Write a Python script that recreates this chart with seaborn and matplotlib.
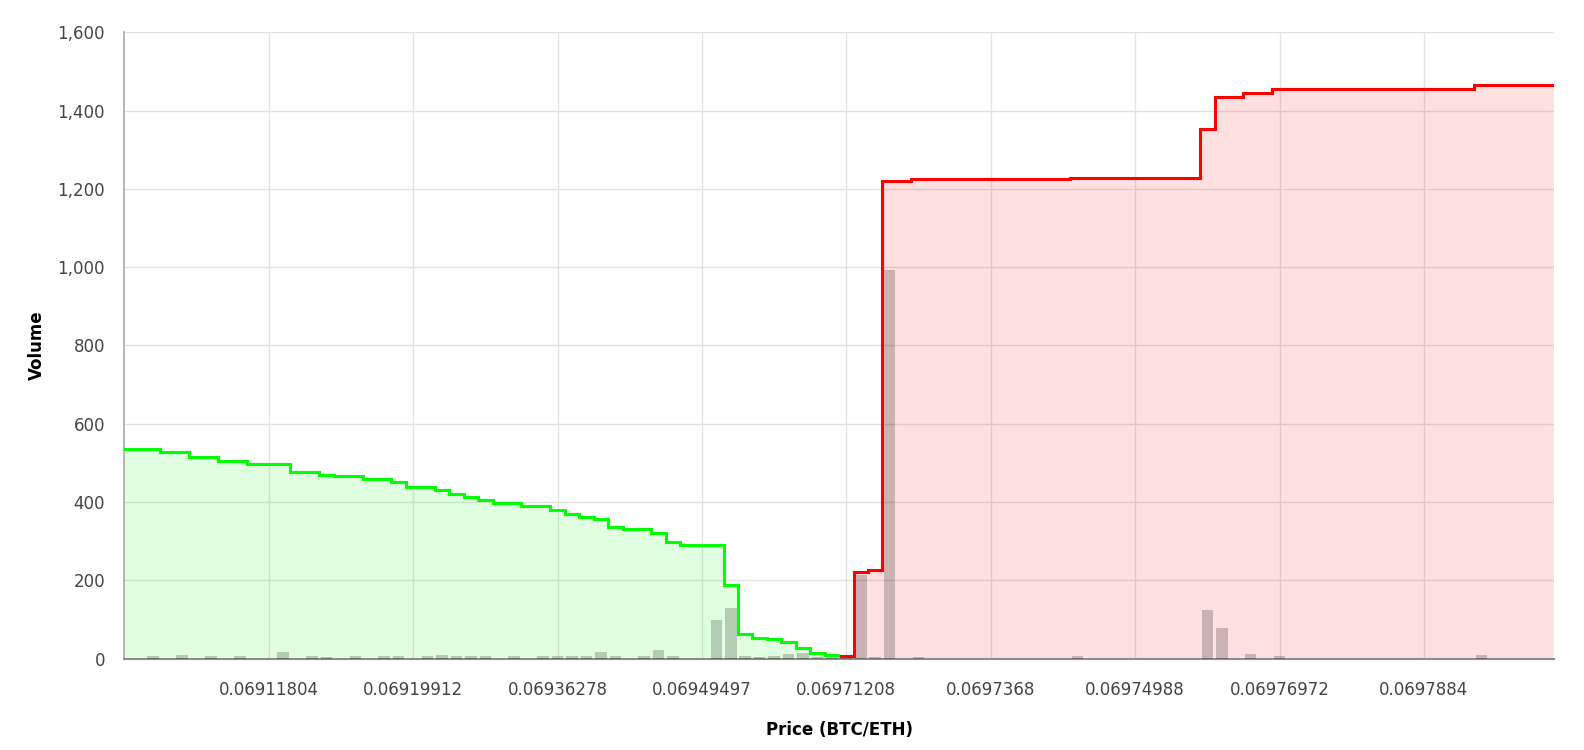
import matplotlib
matplotlib.use("Agg")
import matplotlib.pyplot as plt
from matplotlib.ticker import FuncFormatter
import numpy as np
import pandas as pd
import seaborn as sns

# cumulative depth per price slot (bids: slots 0-49, asks: slots 50-99)
bid_total = [535, 535, 535, 527, 527, 516, 516, 504, 504, 497,
             497, 497, 477, 477, 470, 466, 466, 458, 458, 451,
             439, 439, 431, 420, 412, 405, 397, 397, 390, 390,
             380, 370, 362, 356, 336, 330, 330, 322, 298, 289,
             289, 289, 187, 62, 53, 49, 42, 28, 14, 8]
bid_volume = [0, 0, 6, 0, 10, 0, 6, 0, 6, 0,
              0, 18, 0, 6, 3, 0, 6, 0, 6, 6,
              0, 6, 10, 6, 6, 6, 0, 6, 0, 6,
              6, 6, 6, 18, 6, 0, 6, 22, 6, 0,
              0, 99, 129, 6, 3, 7, 11, 15, 3, 8]
ask_total = [7, 222, 226, 1220, 1220, 1224, 1224, 1224, 1224, 1224,
             1224, 1224, 1224, 1224, 1224, 1224, 1229, 1229, 1229, 1229,
             1229, 1229, 1229, 1229, 1229, 1354, 1436, 1436, 1446, 1446,
             1454, 1454, 1454, 1454, 1454, 1454, 1454, 1454, 1454, 1454,
             1454, 1454, 1454, 1454, 1465, 1465, 1465, 1465, 1465, 1465]
ask_volume = [7, 214, 4, 992, 0, 4, 0, 0, 0, 0,
              0, 0, 0, 0, 0, 0, 7, 0, 0, 0,
              0, 0, 0, 0, 0, 125, 78, 0, 12, 0,
              6, 0, 0, 0, 0, 0, 0, 0, 0, 0,
              0, 0, 0, 0, 10, 0, 0, 0, 0, 0]
tick_labels = ["0.06911804", "0.06919912", "0.06936278", "0.06949497",
               "0.06971208", "0.0697368", "0.06974988", "0.06976972",
               "0.0697884"]
tick_every = 10

n_bid = len(bid_total)
n_ask = len(ask_total)
n_all = n_bid + n_ask
depth = pd.DataFrame({"slot": np.arange(n_all),
                      "volume": bid_volume + ask_volume})

sns.set_theme(style="white")
plt.rcParams["font.family"] = ["DejaVu Sans"]

fig = plt.figure(figsize=(15.84, 7.5), dpi=100)
ax = fig.add_axes([0.0785, 0.1219, 0.9025, 0.8350])

# area fills under the depth lines
bid_edges = np.arange(n_bid + 1) - 0.5
ask_edges = np.arange(n_bid, n_all + 1) - 0.5
ax.stairs(bid_total, bid_edges, baseline=0, fill=True,
          color=(0, 1, 0, 0.12), lw=0, zorder=1)
ax.stairs(ask_total, ask_edges, baseline=0, fill=True,
          color=(1, 0, 0, 0.12), lw=0, zorder=1)

# order volume bars
sns.barplot(data=depth, x="slot", y="volume", color="black", alpha=0.2,
            saturation=1, width=0.8, errorbar=None, linewidth=0,
            edgecolor="none", ax=ax, zorder=3)

# step lines
ax.stairs(bid_total, bid_edges, baseline=None, color="#00ff00", lw=2.2, zorder=4)
ax.stairs(ask_total, ask_edges, baseline=None, color="#ff0000", lw=2.2, zorder=4)

ax.set_xlim(0, n_all - 1)
ax.set_ylim(0, 1600)
ax.set_xticks([tick_every * (k + 1) for k in range(len(tick_labels))])
ax.set_xticklabels(tick_labels)
ax.set_yticks(range(0, 1601, 200))
ax.yaxis.set_major_formatter(FuncFormatter(lambda v, p: f"{int(v):,}"))

ax.set_axisbelow(True)
ax.grid(True, color="#e2e2e2", lw=1)
for side in ["top", "right"]:
    ax.spines[side].set_visible(False)
ax.spines["left"].set_color("#a8a8a8")
ax.spines["left"].set_linewidth(1.2)
ax.spines["bottom"].set_color("#8c8c8c")
ax.spines["bottom"].set_linewidth(1.5)

ax.tick_params(axis="both", length=6, width=1, color="#cccccc",
               labelsize=12, labelcolor="#444444")
ax.tick_params(axis="x", pad=10)
ax.tick_params(axis="y", pad=8)

ax.set_xlabel("Price (BTC/ETH)", fontsize=12, fontweight="bold",
              color="black", labelpad=16)
ax.set_ylabel("Volume", fontsize=12, fontweight="bold",
              color="black", labelpad=8)

fig.savefig("out.png", dpi=100)
plt.close()
